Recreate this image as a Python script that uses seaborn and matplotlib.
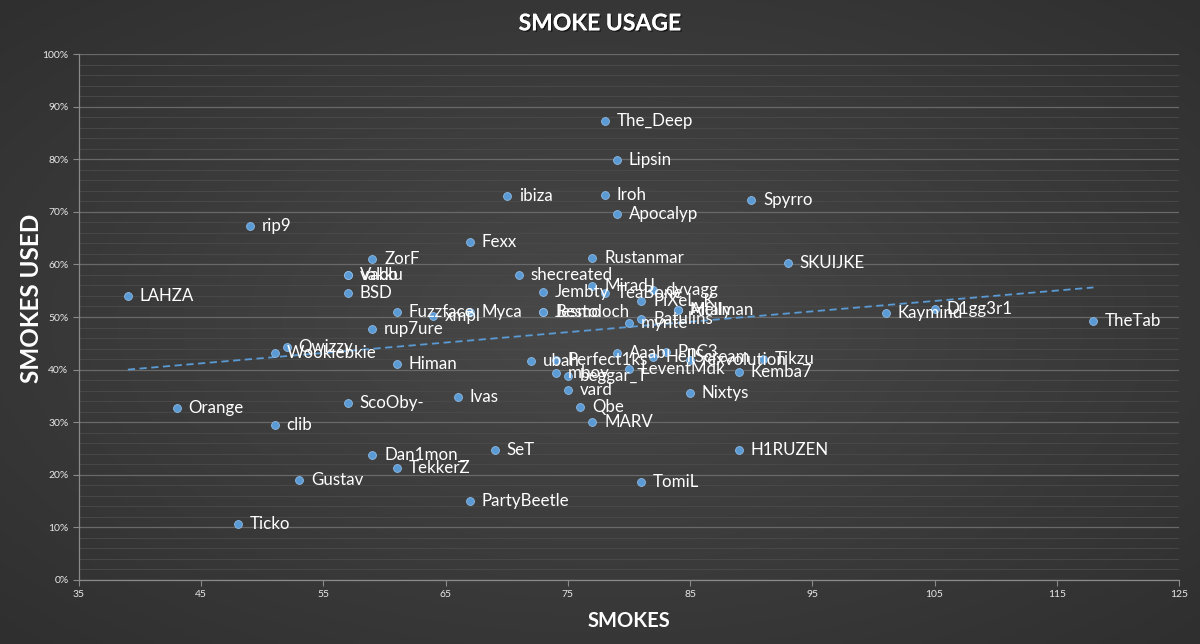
import numpy as np
import pandas as pd
import matplotlib
matplotlib.use("Agg")
import matplotlib.pyplot as plt
import matplotlib.patheffects as pe
import seaborn as sns
from matplotlib.ticker import MultipleLocator, FixedLocator, FuncFormatter

players = ["The_Deep", "Lipsin", "ibiza", "Iroh", "Spyrro", "Apocalyp", "rip9", "Fexx",
           "ZorF", "Rustanmar", "SKUIJKE", "shecreated", "Vabb", "vakku", "LAHZA", "BSD",
           "Jembty", "MiradJ", "TeaBone", "dyvagg", "PiXeL_K", "Mellman", "Alfaly",
           "Kaymind", "D1gg3r1", "TheTab", "Fuzzface", "xmpl", "Myca", "Jesmo", "Bestoloch",
           "mynte", "Batulins", "rup7ure", "Qwizzy", "Wookiebkie", "Himan", "ubah",
           "Perfect1ks", "Aaab", "PnC3", "HellScream", "rexvolution", "Tikzu", "mboy",
           "beggar_T", "LeventMdk", "Kemba7", "vard", "Nixtys", "Orange", "ScoOby-", "Ivas",
           "Qbe", "clib", "MARV", "Dan1mon_", "SeT", "H1RUZEN", "TekkerZ", "Gustav",
           "TomiL", "PartyBeetle", "Ticko"]
smokes = [78, 79, 70, 78, 90, 79, 49, 67,
          59, 77, 93, 71, 57, 57, 39, 57,
          73, 77, 78, 82, 81, 84, 84,
          101, 105, 118, 61, 64, 67, 73, 73,
          80, 81, 59, 52, 51, 61, 72,
          74, 79, 83, 82, 85, 91, 74,
          75, 80, 89, 75, 85, 43, 57, 66,
          76, 51, 77, 59, 69, 89, 61, 53,
          81, 67, 48]
used_pct = [87.3, 79.8, 73.0, 73.2, 72.2, 69.6, 67.3, 64.3,
            61.0, 61.2, 60.3, 58.0, 58.0, 58.0, 54.0, 54.6,
            54.8, 55.9, 54.6, 55.1, 53.0, 51.3, 51.3,
            50.8, 51.5, 49.2, 51.0, 50.2, 51.0, 51.0, 51.0,
            48.9, 49.6, 47.7, 44.3, 43.2, 41.1, 41.6,
            41.8, 43.2, 43.3, 42.4, 41.8, 42.0, 39.4,
            38.8, 40.1, 39.5, 36.1, 35.6, 32.7, 33.7, 34.8,
            32.9, 29.5, 30.0, 23.8, 24.7, 24.7, 21.3, 19.0,
            18.6, 15.0, 10.6]
x_ticks = [35, 45, 55, 65, 75, 85, 95, 105, 115, 125]

df = pd.DataFrame({"player": players, "smokes": smokes, "used": np.array(used_pct) / 100})

sns.set_theme(style="dark")
plt.rcParams["font.family"] = ["Lato", "DejaVu Sans"]

fig = plt.figure(figsize=(12, 6.44), dpi=100)

# background radial gradient
bg = fig.add_axes([0, 0, 1, 1], zorder=-10)
yy, xx = np.mgrid[-1:1:300j, -1:1:560j]
r = np.sqrt(xx ** 2 + yy ** 2)
vals = 0.285 - 0.10 * np.clip(r / 1.4, 0, 1)
bg.imshow(np.dstack([vals, vals, vals]), aspect="auto", extent=[0, 1, 0, 1])
bg.axis("off")

ax = fig.add_axes([0.0658, 0.0994, 0.9167, 0.8167])
ax.patch.set_alpha(0)

ax.set_xlim(35, 125)
ax.set_ylim(0, 1.0)
ax.xaxis.set_major_locator(FixedLocator(x_ticks))
ax.yaxis.set_major_locator(MultipleLocator(0.1))
ax.yaxis.set_minor_locator(MultipleLocator(0.02))
ax.yaxis.set_major_formatter(FuncFormatter(lambda v, p: f"{v*100:.0f}%"))

ax.grid(False)
ax.grid(axis="y", which="major", color="#696969", lw=0.9, zorder=0)
ax.grid(axis="y", which="minor", color="#4b4b4b", lw=0.6, zorder=0)
ax.set_axisbelow(True)

for s in ["top", "right"]:
    ax.spines[s].set_visible(False)
for s in ["left", "bottom"]:
    ax.spines[s].set_color("#8a8a8a")
    ax.spines[s].set_linewidth(0.9)

ax.tick_params(axis="both", which="major", colors="#8a8a8a", labelcolor="#e8e8e8",
               labelsize=7.5, length=4, width=0.8, direction="out", left=True, bottom=True)
ax.tick_params(axis="y", which="minor", length=0, left=False)

sns.regplot(data=df, x="smokes", y="used", ax=ax, scatter=False, ci=None, truncate=True,
            line_kws=dict(color="#5b9bd5", lw=1.3, ls=(0, (4, 2.5))))

sns.scatterplot(data=df, x="smokes", y="used", ax=ax, s=32, color="#5b9bd5",
                edgecolor="#8fbbe6", linewidth=0.6, zorder=5)

for name, xv, yv in zip(df["player"], df["smokes"], df["used"]):
    ax.annotate(name, (xv, yv), xytext=(8.5, 0), textcoords="offset points",
                va="center", ha="left", color="white", fontsize=12.2, zorder=6)

ax.set_xlabel("")
ax.set_ylabel("")

shadow = [pe.withSimplePatchShadow(offset=(1, -1), shadow_rgbFace="black", alpha=0.6), pe.Normal()]
fig.text(0.5, 0.963, "SMOKE USAGE", ha="center", va="center", color="white",
         fontsize=16.5, fontweight="bold", path_effects=shadow)
fig.text(0.524, 0.036, "SMOKES", ha="center", va="center", color="white",
         fontsize=14.5, fontweight="bold")
fig.text(0.026, 0.537, "SMOKES USED", ha="center", va="center", color="white",
         fontsize=17.5, fontweight="bold", rotation=90)

fig.savefig("out.png", dpi=100)
